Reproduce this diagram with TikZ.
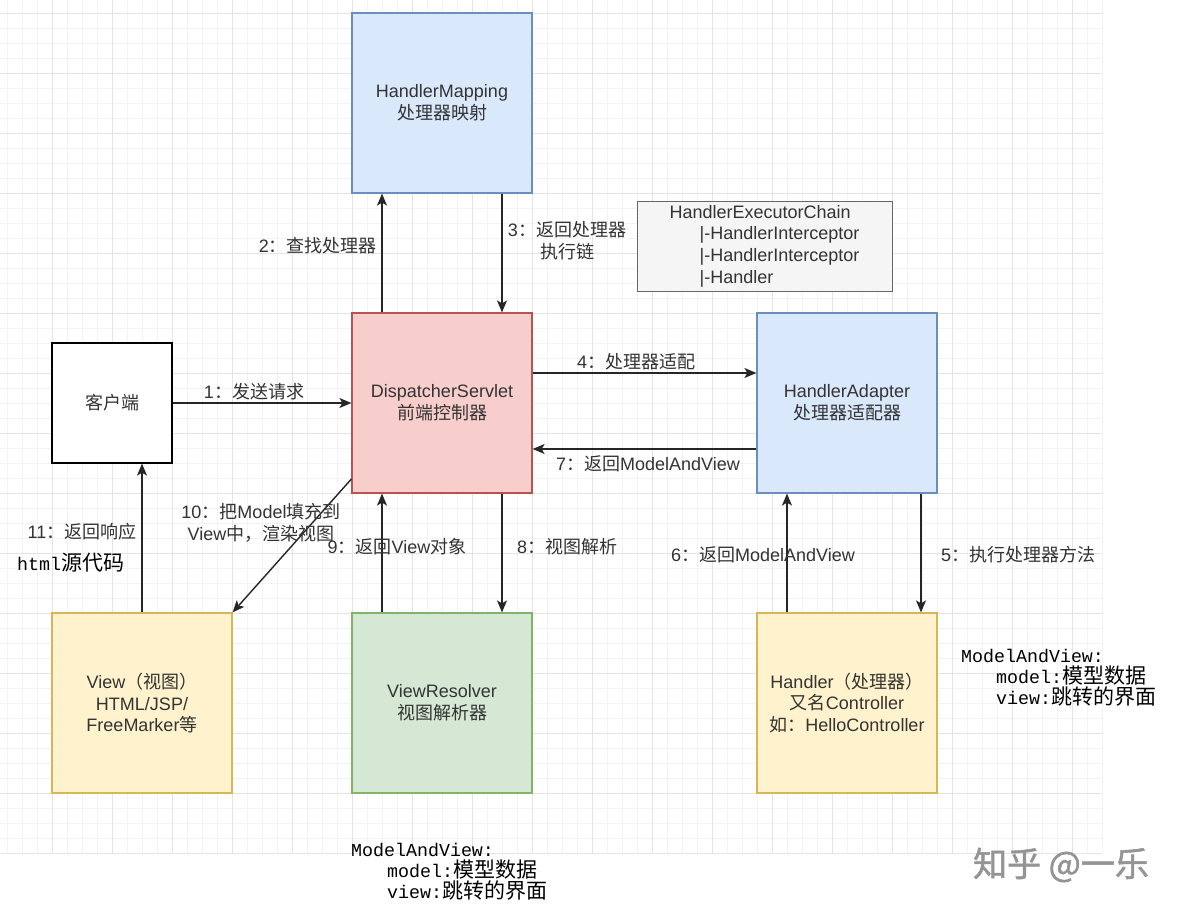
\documentclass[tikz,border=0pt]{standalone}
\usepackage{fontspec}
\setmainfont{Liberation Sans}
\setmonofont{Liberation Mono}
\newfontfamily\cjk{Noto Sans CJK SC}
\newfontfamily\cjkwm[FakeBold=1.5]{Noto Sans CJK SC}
\usetikzlibrary{arrows.meta}
\newcommand\zhtxt[1]{{\cjk #1}}
\newcommand\zhmono[1]{{\cjk\fontsize{21}{21}\selectfont #1}}
\definecolor{hmfill}{HTML}{DAE8FC}\definecolor{hmdraw}{HTML}{6C8EBF}
\definecolor{dsfill}{HTML}{F8CECC}\definecolor{dsdraw}{HTML}{B85450}
\definecolor{yfill}{HTML}{FFF2CC}\definecolor{ydraw}{HTML}{D6B656}
\definecolor{gfill}{HTML}{D5E8D4}\definecolor{gdraw}{HTML}{82B366}
\definecolor{hecfill}{HTML}{F5F5F5}\definecolor{hecdraw}{HTML}{666666}
\definecolor{txt}{HTML}{333333}
\definecolor{gridminor}{HTML}{F3F3F3}
\definecolor{gridmajor}{HTML}{E4E4E4}
\begin{document}
\begin{tikzpicture}[x=1pt,y=-1pt,
  box/.style={draw, line width=1.2pt, minimum width=180pt, minimum height=180pt, align=center, text=txt, inner sep=0pt,
    font=\fontsize{18}{21.6}\selectfont},
  lbl/.style={text=txt, align=center, inner sep=1pt, font=\fontsize{18}{21.6}\selectfont},
  mono/.style={text=black, align=left, inner sep=0pt, font=\ttfamily\fontsize{18.3}{21}\selectfont},
  arr/.style={draw=black!85, line width=1.4pt, -{Stealth[length=12pt,width=10pt,inset=3pt]}},
  minorl/.style={draw=gridminor, line width=0.8pt},
  majorl/.style={draw=gridmajor, line width=1pt}]
\useasboundingbox (0,0) rectangle (1184,916);
\fill[white] (0,0) rectangle (1184,916);
% grid
\foreach \x in {7,22,...,1102} \draw[minorl] (\x,0) -- (\x,853);
\foreach \y in {13,28,...,853} \draw[minorl] (0,\y) -- (1102,\y);
\foreach \x in {52,112,...,1102} \draw[majorl] (\x,0) -- (\x,853);
\foreach \y in {13,73,...,853} \draw[majorl] (0,\y) -- (1102,\y);

% boxes
\node[box, fill=hmfill, draw=hmdraw] (hm) at (442,103) {HandlerMapping\\\zhtxt{处理器映射}};
\node[box, fill=dsfill, draw=dsdraw] (ds) at (442,403) {DispatcherServlet\\\zhtxt{前端控制器}};
\node[box, fill=white, draw=black, minimum width=120pt, minimum height=120pt] (client) at (112,403) {\zhtxt{客户端}};
\node[box, fill=hmfill, draw=hmdraw] (ha) at (847,403) {HandlerAdapter\\\zhtxt{处理器适配器}};
\node[box, fill=yfill, draw=ydraw] (view) at (142,703) {View\zhtxt{（视图）}\\HTML/JSP/\\FreeMarker\zhtxt{等}};
\node[box, fill=gfill, draw=gdraw] (vr) at (442,703) {ViewResolver\\\zhtxt{视图解析器}};
\node[box, fill=yfill, draw=ydraw] (handler) at (847,703) {Handler\zhtxt{（处理器）}\\\zhtxt{又名}Controller\\\zhtxt{如：}HelloController};
\node[box, fill=hecfill, draw=hecdraw, minimum width=255pt, minimum height=90pt, align=left, line width=1pt] (hec) at (764.5,246)
  {HandlerExecutorChain\\\hspace*{30pt}|-HandlerInterceptor\\\hspace*{30pt}|-HandlerInterceptor\\\hspace*{30pt}|-Handler};

% connectors
\draw[arr] ([xshift=-60pt]ds.north) -- ([xshift=-60pt]hm.south);
\draw[arr] ([xshift=60pt]hm.south) -- ([xshift=60pt]ds.north);
\draw[arr] (client.east) -- (ds.west);
\draw[arr] ([yshift=30pt]ds.east) -- ([yshift=30pt]ha.west);
\draw[arr] ([yshift=-46pt]ha.west) -- ([yshift=-46pt]ds.east);
\draw[arr] ([xshift=74pt]ha.south) -- ([xshift=74pt]handler.north);
\draw[arr] ([xshift=-60pt]handler.north) -- ([xshift=-60pt]ha.south);
\draw[arr] ([xshift=60pt]ds.south) -- ([xshift=60pt]vr.north);
\draw[arr] ([xshift=-60pt]vr.north) -- ([xshift=-60pt]ds.south);
\draw[arr] ([yshift=-76pt]ds.west) -- (view.north east);
\draw[arr] (view.north) -- (view.north |- client.south);

% labels
\node[lbl, anchor=east] (l2) at (378,246) {2\zhtxt{：查找处理器}};
\node[lbl] (l3) at (567,241) {3\zhtxt{：返回处理器}\\\zhtxt{执行链}};
\node[lbl] (l1) at (254,392) {1\zhtxt{：发送请求}};
\node[lbl] (l4) at (636,362) {4\zhtxt{：处理器适配}};
\node[lbl] (l7) at (648,464) {7\zhtxt{：返回}ModelAndView};
\node[lbl] (l5) at (1018,555) {5\zhtxt{：执行处理器方法}};
\node[lbl] (l6) at (763,555) {6\zhtxt{：返回}ModelAndView};
\node[lbl] (l8) at (567,547) {8\zhtxt{：视图解析}};
\node[lbl] (l9) at (397,547) {9\zhtxt{：返回}View\zhtxt{对象}};
\node[lbl] (l10) at (261,523) {10\zhtxt{：把}Model\zhtxt{填充到}\\View\zhtxt{中，渲染视图}};
\node[lbl] (l11) at (82,532) {11\zhtxt{：返回响应}};
\node[mono, anchor=west] (html) at (17,563) {html\zhmono{源代码}};

\node[mono, anchor=west] (mav1) at (351,872) {ModelAndView:\\\hspace*{36pt}model:\zhmono{模型数据}\\\hspace*{36pt}view:\zhmono{跳转的界面}};
\node[mono, anchor=west] (mav2) at (961,678) {ModelAndView:\\\hspace*{35pt}model:\zhmono{模型数据}\\\hspace*{35pt}view:\zhmono{跳转的界面}};

\node[text=black!42, inner sep=0pt, font=\cjkwm\fontsize{34}{34}\selectfont] (wm) at (1061,865) {知乎 @一乐};
\end{tikzpicture}
\end{document}
